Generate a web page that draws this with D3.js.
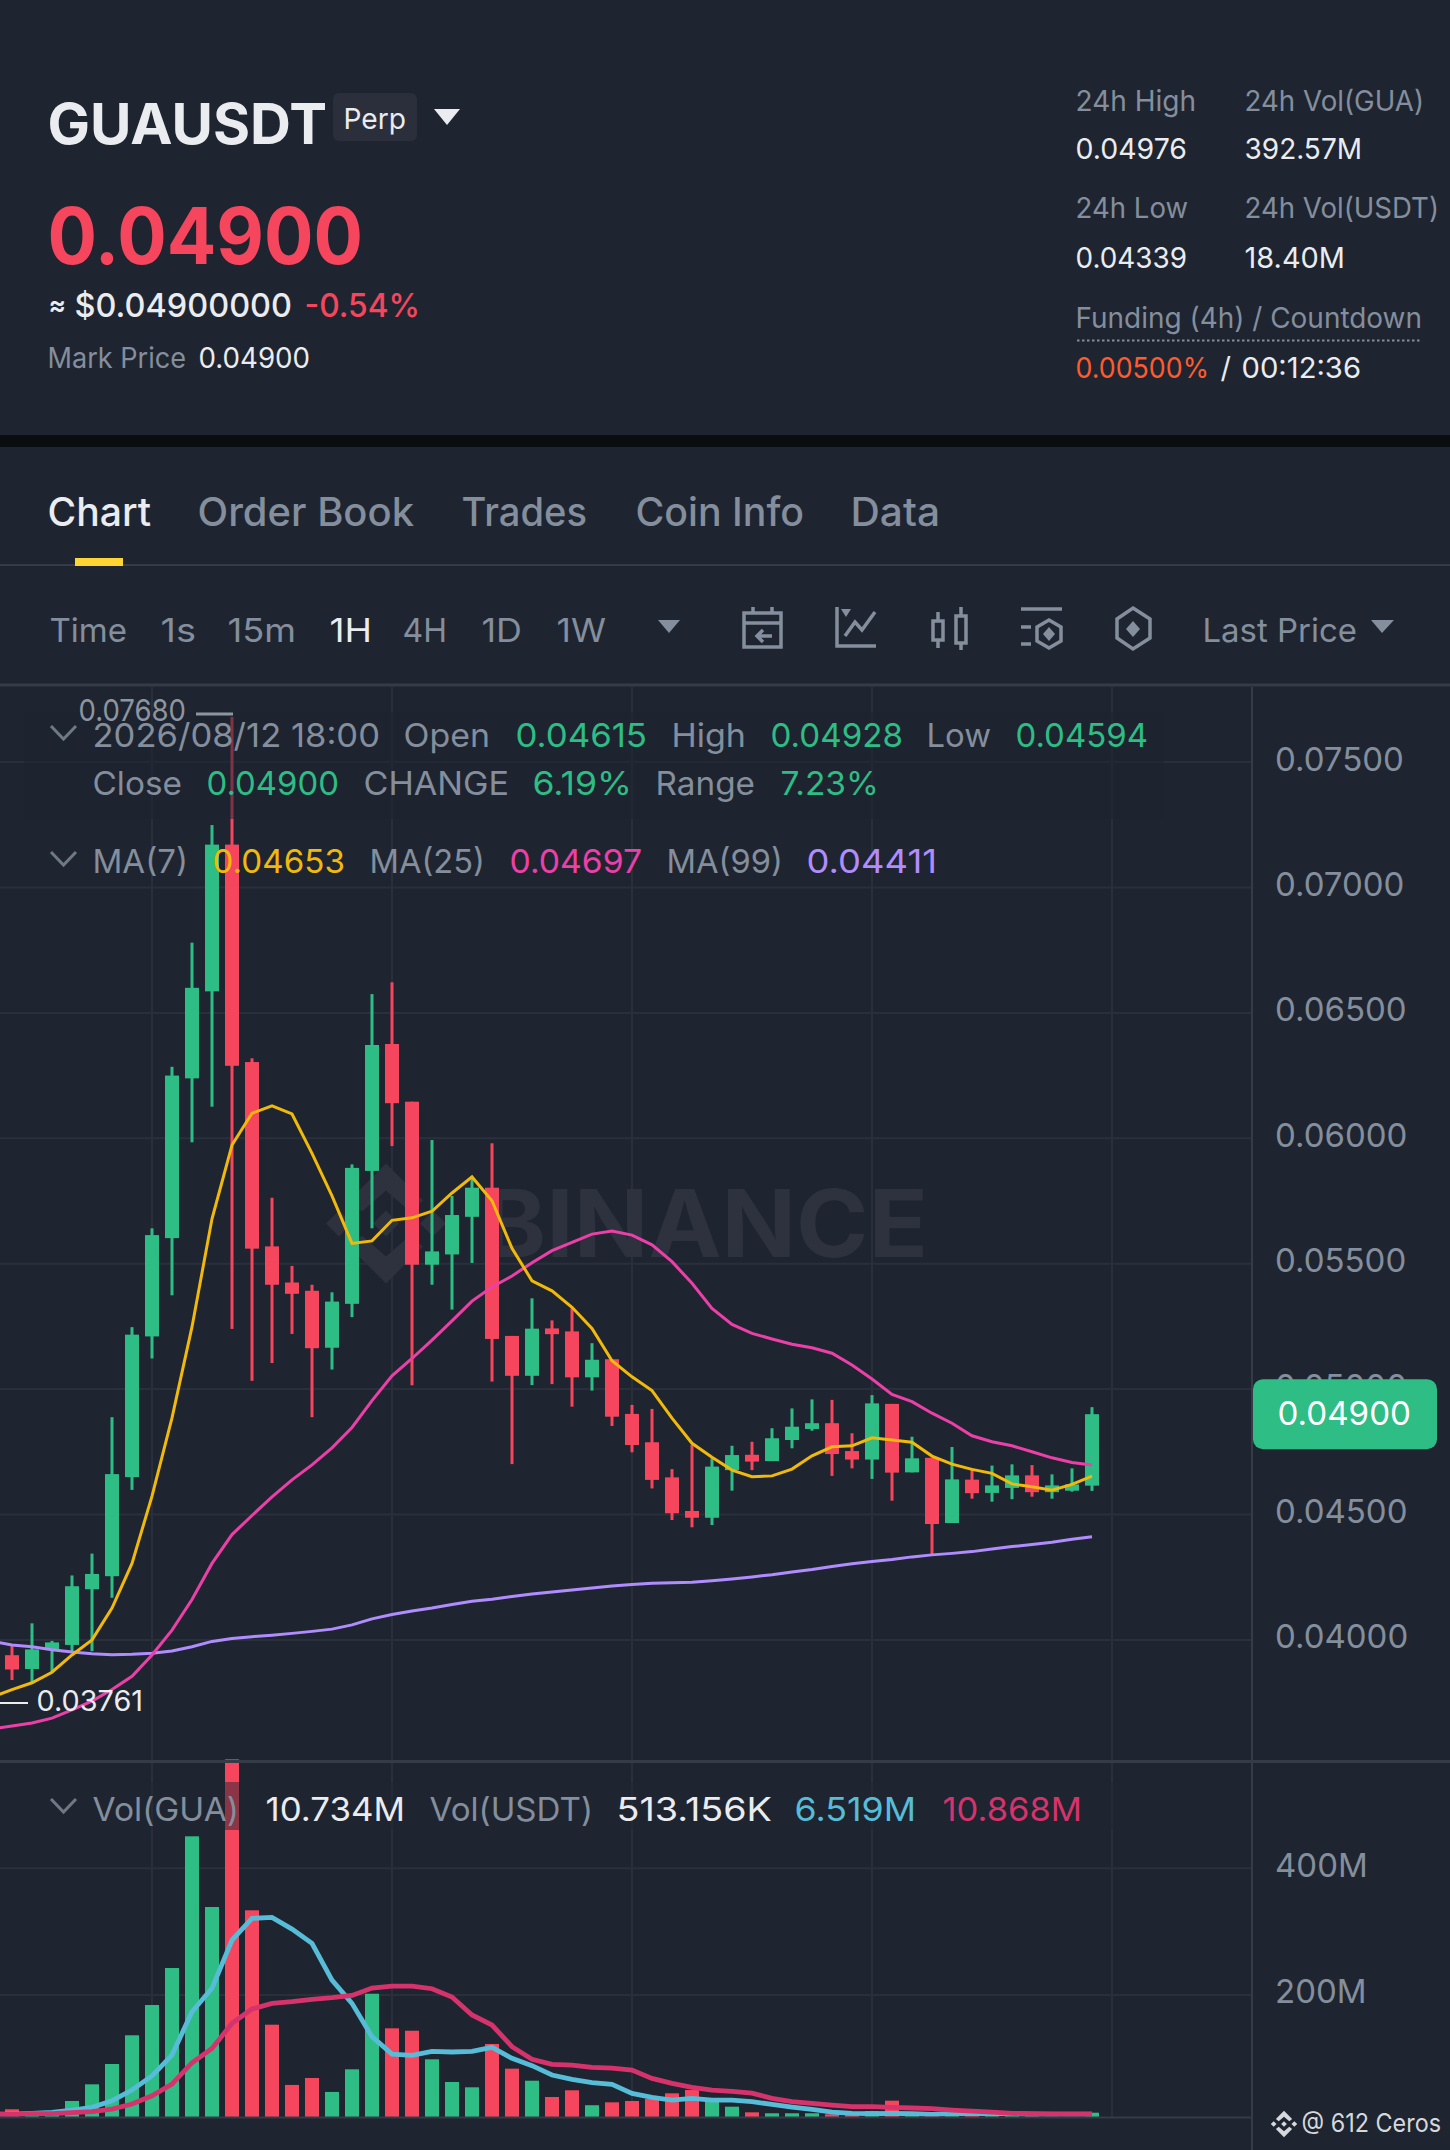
<!DOCTYPE html>
<html>
<head>
<meta charset="utf-8">
<script src="https://cdn.jsdelivr.net/npm/d3@7"></script>
<style>
html, body { margin: 0; padding: 0; background: #1e2530; }
svg { display: block; }
text { font-family: Inter, "Noto Sans", sans-serif; }
</style>
</head>
<body>
<div id="chart"></div>
<script>
// candles, one hour each
var candleOpen = [.03939,.03884,.03962,.03980,.04202,.04254,.04649,.05210,.05602,.06239,.06586,.07171,.06304,.05569,.05425,.05392,.05165,.05340,.05870,.06376,.06146,.05496,.05537,.05687,.05803,.05212,.05053,.05242,.05230,.05047,.05119,.04901,.04788,.04648,.04514,.04487,.04677,.04738,.04713,.04797,.04841,.04864,.04753,.04719,.04941,.04668,.04726,.04466,.04639,.04586,.04606,.04656,.04589,.04595,.04615];
var candleHigh = [.03978,.04066,.03996,.04257,.04344,.04888,.05247,.05641,.06285,.06780,.07249,.07680,.06319,.05763,.05491,.05416,.05386,.05896,.06575,.06622,.06146,.05993,.05770,.05839,.05980,.05212,.05362,.05274,.05322,.05183,.05119,.04937,.04921,.04681,.04777,.04724,.04774,.04790,.04844,.04923,.04959,.04957,.04824,.04976,.04941,.04810,.04726,.04769,.04684,.04695,.04700,.04697,.04660,.04684,.04928];
var candleLow = [.03840,.03833,.03871,.03948,.03955,.04168,.04598,.05122,.05374,.05984,.06126,.05240,.05033,.05104,.05220,.04888,.05078,.05287,.05641,.05969,.05015,.05416,.05317,.05503,.05030,.04701,.05016,.05020,.04930,.04994,.04853,.04748,.04604,.04478,.04449,.04458,.04595,.04677,.04713,.04764,.04834,.04654,.04684,.04642,.04555,.04668,.04339,.04466,.04563,.04551,.04561,.04571,.04563,.04591,.04594];
var candleClose = [.03882,.03962,.03990,.04214,.04263,.04661,.05217,.05614,.06250,.06600,.07171,.06289,.05560,.05416,.05380,.05163,.05349,.05882,.06372,.06140,.05496,.05549,.05694,.05803,.05200,.05053,.05241,.05219,.05047,.05117,.04890,.04777,.04638,.04505,.04487,.04691,.04737,.04711,.04804,.04850,.04864,.04741,.04719,.04943,.04667,.04724,.04462,.04640,.04585,.04616,.04656,.04589,.04616,.04620,.04900];

// moving averages start one candle left of the screen
var ma7 = [.03772,.03802,.03829,.03871,.03940,.04000,.04127,.04305,.04573,.04885,.05248,.05679,.05973,.06100,.06129,.06097,.05940,.05770,.05581,.05591,.05673,.05683,.05709,.05782,.05846,.05751,.05561,.05432,.05392,.05326,.05242,.05113,.05049,.04994,.04884,.04784,.04728,.04677,.04651,.04654,.04681,.04734,.04770,.04774,.04806,.04797,.04788,.04733,.04701,.04680,.04664,.04622,.04611,.04597,.04620,.04653];
var ma25 = [.03645,.03657,.03669,.03688,.03721,.03756,.03802,.03855,.03940,.04039,.04161,.04305,.04420,.04496,.04570,.04638,.04698,.04766,.04847,.04954,.05053,.05122,.05195,.05272,.05351,.05407,.05451,.05504,.05552,.05585,.05618,.05630,.05614,.05575,.05508,.05422,.05322,.05258,.05222,.05200,.05179,.05165,.05143,.05096,.05040,.04979,.04950,.04904,.04864,.04814,.04790,.04774,.04750,.04726,.04707,.04697];
var ma99 = [.03994,.03980,.03973,.03961,.03952,.03945,.03941,.03943,.03947,.03956,.03973,.03994,.04006,.04013,.04019,.04026,.04034,.04043,.04060,.04084,.04101,.04115,.04127,.04141,.04154,.04162,.04173,.04183,.04191,.04199,.04207,.04215,.04221,.04226,.04228,.04230,.04236,.04243,.04251,.04260,.04271,.04281,.04293,.04304,.04313,.04321,.04331,.04339,.04345,.04352,.04362,.04372,.04380,.04389,.04401,.04411];

// volume in millions
var volume = [19.6,12,16,32.7,59,91.1,136.4,184.2,242.6,450.5,338.9,572,333.7,153.1,58,69,47,82.7,202,147.4,143.6,98.5,62.7,54.3,122.7,83.7,64.7,39,49.6,26,30.6,32.7,35.8,44.8,50,34.3,23.7,14.8,13.3,13.3,13.3,11.7,10.5,16.9,33.2,10.5,13.3,13.3,11.7,10.5,9.5,9,8,8,14.2];
var volFast = [12,12.1,13.1,14.7,18.4,22.6,33.1,50,72.1,105.2,173.6,210.5,286.8,321,322.5,304.1,281.5,223.6,186.8,134.2,106.8,104.7,111,110,111,117.3,100,88.4,73.7,66.8,61.5,58.9,44.7,38.4,34.2,36.8,34.2,34.2,31.6,27.3,23.1,19.5,15.2,13.1,12.6,13.1,12.6,11.6,12.6,13.1,12.6,12.6,12.1,12.1,12.1,12.1];
var volSlow = [11.5,11.6,12.6,12.6,14.2,15.8,20,27.9,41,59.4,93.1,115.7,155.2,177.8,186.8,189.4,193.1,195.7,199.4,211,214.1,214.1,209.9,196.8,168.4,152.6,118.4,98.4,90.5,89.4,85.8,84.7,81.5,68.4,60.5,54.2,50,47.9,45.2,36.8,31.6,28.9,26.3,23.7,23.7,22.6,21.6,20.5,18.4,16.8,15.2,13.1,12.6,12.1,12.1,12.1];

var priceTicks = [.04,.045,.05,.055,.06,.065,.07,.075];
var volumeTicks = [200,400];
var timeGridAt = [7,19,31,43,55];
var tabs = ['Chart','Order Book','Trades','Coin Info','Data'];
var tabStart = [49,199,463,637,852];
var tabEnd = [151,414,587,804,940];
var intervals = ['Time','1s','15m','1H','4H','1D','1W'];
var intervalStart = [51,162,229,331,404,483,558];
var intervalEnd = [127,196,296,372,447,522,606];

var GREEN = '#2ebd85', RED = '#f6465d', GREY = '#848e9c', WHITE = '#eaecef', BG = '#1e2530';
var GRID = '#2a303b', RULE = '#353b47', WATER = '#2e323e';

var svg = d3.select('#chart').append('svg').attr('width', 1450).attr('height', 2150);
svg.append('rect').attr('width', 1450).attr('height', 2150).attr('fill', BG);

var x = d3.scaleLinear().domain([0, 54]).range([12, 1092]);
var y = d3.scaleLinear().domain([.05, .075]).range([1389.1, 762.1]);
var yVol = d3.scaleLinear().domain([200, 400]).range([1995, 1868.3]);

// text with the width fitted to the picture when an end is given
// inter has a wider side bearing, so pull the start left a little
var label = function(px, py, s, size, fill, weight, end) {
	var t = svg.append('text')
		.attr('x', px - 1.5)
		.attr('y', py)
		.attr('font-size', size)
		.attr('font-weight', weight || 400)
		.attr('fill', fill)
		.text(s);
	if (end) t.attr('textLength', end - px + 1.5).attr('lengthAdjust', 'spacingAndGlyphs');
	return t;
};

// header
label(49, 144, 'GUAUSDT', 56, WHITE, 700, 327);
svg.append('rect').attr('x', 333).attr('y', 93).attr('width', 84).attr('height', 48).attr('rx', 6).attr('fill', '#2a2f3b');
label(345, 129, 'Perp', 29, WHITE, 400, 406);
svg.append('path').attr('d', d3.line()([[434, 109], [460, 109], [447, 125]])).attr('fill', WHITE);
label(49, 264, '0.04900', 78, RED, 700, 363);
label(50, 314, '≈', 26, WHITE, 600, 66);
label(76, 317, '$0.04900000', 33, WHITE, 500, 292);
label(306, 317, '-0.54%', 33, RED, 500, 420);
label(49, 368, 'Mark Price', 28, GREY, 400, 186);
label(200, 368, '0.04900', 28, WHITE, 400, 310);

label(1077, 111, '24h High', 29, GREY, 400, 1196);
label(1246, 111, '24h Vol(GUA)', 29, GREY, 400, 1424);
label(1077, 159, '0.04976', 29, WHITE, 400, 1187);
label(1246, 159, '392.57M', 29, WHITE, 400, 1362);
label(1077, 218, '24h Low', 29, GREY, 400, 1188);
label(1246, 218, '24h Vol(USDT)', 29, GREY, 400, 1439);
label(1077, 268, '0.04339', 29, WHITE, 400, 1187);
label(1246, 268, '18.40M', 29, WHITE, 400, 1345);
label(1077, 328, 'Funding (4h) / Countdown', 29, GREY, 400, 1422);
svg.append('line').attr('x1', 1077).attr('x2', 1422).attr('y1', 340.5).attr('y2', 340.5)
	.attr('stroke', GREY).attr('stroke-width', 2).attr('stroke-dasharray', '2.5 2.5');
label(1077, 378, '0.00500%', 29, '#ff5b2e', 400, 1209);
label(1222, 378, '/', 29, WHITE, 400);
label(1243, 378, '00:12:36', 29, WHITE, 400, 1361);

svg.append('rect').attr('x', 0).attr('y', 435).attr('width', 1450).attr('height', 12).attr('fill', '#0b0e11');

// tabs
tabs.forEach(function(name, i) {
	label(tabStart[i], 526, name, 39, i == 0 ? WHITE : GREY, 500, tabEnd[i]);
});
svg.append('line').attr('x1', 0).attr('x2', 1450).attr('y1', 565).attr('y2', 565).attr('stroke', RULE).attr('stroke-width', 2);
svg.append('rect').attr('x', 75).attr('y', 558).attr('width', 48).attr('height', 8).attr('fill', '#fcd535');

// toolbar
intervals.forEach(function(name, i) {
	label(intervalStart[i], 642, name, 33, name == '1H' ? WHITE : GREY, 400, intervalEnd[i]);
});
label(1204, 642, 'Last Price', 33, GREY, 400, 1357);
var tri = d3.line();
svg.append('path').attr('d', tri([[658, 620], [680, 620], [669, 633]])).attr('fill', GREY);
svg.append('path').attr('d', tri([[1371, 620], [1394, 620], [1382, 633]])).attr('fill', GREY);

var icons = svg.append('g').attr('fill', 'none').attr('stroke', GREY).attr('stroke-width', 3.5);
icons.append('path').attr('d', 'M744 613H781V647H744ZM744 623H781M753 607V613M772 607V613M772 636H757M763 630L757 636L763 642');
icons.append('path').attr('d', 'M837 607V646H876M845 636L855 622L862 630L875 612');
icons.append('path').attr('fill', GREY).attr('stroke', 'none').attr('d', 'M841 609H851L846 617Z');
icons.append('path').attr('d', 'M933 621H943V640H933ZM956 616H966V643H956ZM938 612V621M938 640V648M961 607V616M961 643V650');
icons.append('path').attr('d', 'M1021 609H1062M1021 627H1031M1021 644H1031M1049 620L1061 627V641L1049 648L1037 641V627Z');
icons.append('path').attr('fill', GREY).attr('stroke', 'none').attr('d', 'M1049 627L1055 634L1049 641L1043 634Z');
icons.append('path').attr('d', 'M1133 608L1150 619V638L1133 649L1117 638V619Z');
icons.append('path').attr('fill', GREY).attr('stroke', 'none').attr('d', 'M1133 621L1140 629L1133 637L1126 629Z');

// panes and grid
svg.append('line').attr('x1', 0).attr('x2', 1450).attr('y1', 685).attr('y2', 685).attr('stroke', RULE).attr('stroke-width', 3);
svg.selectAll('.vgrid').data(timeGridAt).enter().append('line')
	.attr('class', 'vgrid')
	.attr('x1', function(d) { return x(d); })
	.attr('x2', function(d) { return x(d); })
	.attr('y1', 687).attr('y2', 2117)
	.attr('stroke', GRID).attr('stroke-width', 2);
svg.selectAll('.hgrid').data(priceTicks).enter().append('line')
	.attr('class', 'hgrid')
	.attr('x1', 0).attr('x2', 1252)
	.attr('y1', function(d) { return y(d); })
	.attr('y2', function(d) { return y(d); })
	.attr('stroke', GRID).attr('stroke-width', 2);
svg.selectAll('.hgridv').data(volumeTicks).enter().append('line')
	.attr('class', 'hgridv')
	.attr('x1', 0).attr('x2', 1252)
	.attr('y1', function(d) { return yVol(d); })
	.attr('y2', function(d) { return yVol(d); })
	.attr('stroke', GRID).attr('stroke-width', 2);

// watermark
var mark = svg.append('g').attr('fill', WATER);
var logo = function(g, cx, cy, s) {
	var d = function(px, py, r) { return 'M' + (cx + px * s) + ' ' + (cy + py * s - r * s) + 'L' + (cx + px * s + r * s) + ' ' + (cy + py * s) + 'L' + (cx + px * s) + ' ' + (cy + py * s + r * s) + 'L' + (cx + px * s - r * s) + ' ' + (cy + py * s) + 'Z'; };
	var chevron = function(dir) {
		var p = function(a, b) { return (cx + a * s) + ' ' + (cy + dir * b * s); };
		return 'M' + p(0, 60) + 'L' + p(37, 23) + 'L' + p(24, 12) + 'L' + p(0, 33) + 'L' + p(-24, 12) + 'L' + p(-37, 23) + 'Z';
	};
	g.append('path').attr('d', d(0, 0, 13) + d(-47, 0, 13) + d(47, 0, 13) + chevron(-1) + chevron(1));
};
logo(mark, 386, 1223.5, 1);
label(483, 1257, 'BINANCE', 93, WATER, 700, 928);

// candles
var price = svg.append('g');
var indexes = d3.range(candleOpen.length);
var color = function(i) { return candleClose[i] >= candleOpen[i] ? GREEN : RED; };
price.selectAll('.wick').data(indexes).enter().append('rect')
	.attr('class', 'wick')
	.attr('x', function(i) { return x(i) - 1.5; })
	.attr('width', 3)
	.attr('y', function(i) { return y(candleHigh[i]); })
	.attr('height', function(i) { return y(candleLow[i]) - y(candleHigh[i]); })
	.attr('fill', color);
price.selectAll('.body').data(indexes).enter().append('rect')
	.attr('class', 'body')
	.attr('x', function(i) { return x(i) - 7; })
	.attr('width', 14)
	.attr('y', function(i) { return y(Math.max(candleOpen[i], candleClose[i])); })
	.attr('height', function(i) { return Math.abs(y(candleOpen[i]) - y(candleClose[i])); })
	.attr('fill', color);

// moving averages
var maLine = function(scale) {
	return d3.line()
		.x(function(d, i) { return x(i - 1); })
		.y(function(d) { return scale(d); });
};
[[ma99, '#b18cff'], [ma25, '#ec40a8'], [ma7, '#f0b90b']].forEach(function(s) {
	price.append('path').attr('d', maLine(y)(s[0])).attr('fill', 'none').attr('stroke', s[1]).attr('stroke-width', 3);
});

// legend background dims what runs under it
svg.append('rect').attr('x', 24).attr('y', 712).attr('width', 1140).attr('height', 107).attr('fill', BG).attr('fill-opacity', 0.55);

// volume pane
svg.append('clipPath').attr('id', 'volclip').append('rect').attr('x', 0).attr('y', 1759).attr('width', 1252).attr('height', 358);
var vol = svg.append('g').attr('clip-path', 'url(#volclip)');
vol.selectAll('.vol').data(indexes).enter().append('rect')
	.attr('class', 'vol')
	.attr('x', function(i) { return x(i) - 7; })
	.attr('width', 14)
	.attr('y', function(i) { return yVol(volume[i]); })
	.attr('height', function(i) { return yVol(0) - yVol(volume[i]); })
	.attr('fill', color);
vol.append('path').attr('d', maLine(yVol)(volFast)).attr('fill', 'none').attr('stroke', '#57bcd8').attr('stroke-width', 4.8);
vol.append('path').attr('d', maLine(yVol)(volSlow)).attr('fill', 'none').attr('stroke', '#d6336c').attr('stroke-width', 4.8);
svg.append('rect').attr('x', 24).attr('y', 1782).attr('width', 1100).attr('height', 48).attr('fill', BG).attr('fill-opacity', 0.5);

svg.append('line').attr('x1', 0).attr('x2', 1450).attr('y1', 1761.5).attr('y2', 1761.5).attr('stroke', RULE).attr('stroke-width', 3);
svg.append('line').attr('x1', 0).attr('x2', 1252).attr('y1', 2117.5).attr('y2', 2117.5).attr('stroke', RULE).attr('stroke-width', 2);
svg.append('line').attr('x1', 1252).attr('x2', 1252).attr('y1', 687).attr('y2', 2150).attr('stroke', RULE).attr('stroke-width', 2);

// axes
var axisP = svg.append('g').attr('transform', 'translate(1275,0)')
	.call(d3.axisRight(y).tickValues(priceTicks).tickSize(0).tickPadding(0).tickFormat(d3.format('.5f')));
var axisV = svg.append('g').attr('transform', 'translate(1275,0)')
	.call(d3.axisRight(yVol).tickValues(volumeTicks).tickSize(0).tickPadding(0).tickFormat(function(d) { return d + 'M'; }));
[axisP, axisV].forEach(function(a) {
	a.select('.domain').remove();
	a.selectAll('text').attr('font-family', 'Inter').attr('font-size', 33).attr('fill', GREY).attr('dy', '0.24em');
});

// last price tag
var lastClose = candleClose[candleClose.length - 1];
svg.append('rect').attr('x', 1253).attr('y', y(lastClose) - 35).attr('width', 184).attr('height', 70).attr('rx', 10).attr('fill', GREEN);
label(1279, y(lastClose) + 11, d3.format('.5f')(lastClose), 33, '#ffffff', 400, 1411);

// high and low marks
var hi = d3.max(candleHigh);
label(80, 721, d3.format('.5f')(hi), 30, '#8d95a1', 400, 186);
svg.append('line').attr('x1', 196).attr('x2', 233).attr('y1', y(hi) - 3).attr('y2', y(hi) - 3).attr('stroke', '#8d95a1').attr('stroke-width', 3);
svg.append('line').attr('x1', 0).attr('x2', 28).attr('y1', 1703).attr('y2', 1703).attr('stroke', WHITE).attr('stroke-width', 2);
label(38, 1711, '0.03761', 28, WHITE, 400, 143);

// chevrons
var chev = function(cy) {
	svg.append('path').attr('d', d3.line()([[51, cy], [63.5, cy + 13], [76, cy]])).attr('fill', 'none').attr('stroke', '#6f7885').attr('stroke-width', 3);
};
chev(726); chev(852); chev(1799);

// legends
var SZ = 33;
label(94, 747, '2026/08/12 18:00', SZ, GREY, 400, 380);
label(405, 747, 'Open', SZ, GREY, 400, 490);
label(517, 747, '0.04615', SZ, GREEN, 400, 647);
label(673, 747, 'High', SZ, GREY, 400, 746);
label(772, 747, '0.04928', SZ, GREEN, 400, 903);
label(928, 747, 'Low', SZ, GREY, 400, 991);
label(1017, 747, '0.04594', SZ, GREEN, 400, 1148);
label(94, 795, 'Close', SZ, GREY, 400, 182);
label(208, 795, '0.04900', SZ, GREEN, 400, 339);
label(365, 795, 'CHANGE', SZ, GREY, 400, 509);
label(534, 795, '6.19%', SZ, GREEN, 400, 632);
label(657, 795, 'Range', SZ, GREY, 400, 755);
label(782, 795, '7.23%', SZ, GREEN, 400, 879);
label(94, 873, 'MA(7)', SZ, GREY, 400, 188);
label(214, 873, '0.04653', SZ, '#f0b90b', 400, 345);
label(371, 873, 'MA(25)', SZ, GREY, 400, 485);
label(511, 873, '0.04697', SZ, '#ec40a8', 400, 642);
label(668, 873, 'MA(99)', SZ, GREY, 400, 783);
label(808, 873, '0.04411', SZ, '#b18cff', 400, 937);
label(94, 1821, 'Vol(GUA)', SZ, GREY, 400, 239);
label(267, 1821, '10.734M', SZ, WHITE, 400, 405);
label(431, 1821, 'Vol(USDT)', SZ, GREY, 400, 593);
label(618, 1821, '513.156K', SZ, WHITE, 400, 772);
label(796, 1821, '6.519M', SZ, '#57bcd8', 400, 916);
label(944, 1821, '10.868M', SZ, '#d6336c', 400, 1082);

// footer mark
var foot = svg.append('g').attr('fill', '#d5d8dc');
logo(foot, 1284, 2124, 0.22);
label(1303, 2132, '@ 612 Ceros', 25, '#d5d8dc', 400, 1441);
</script>
</body>
</html>
